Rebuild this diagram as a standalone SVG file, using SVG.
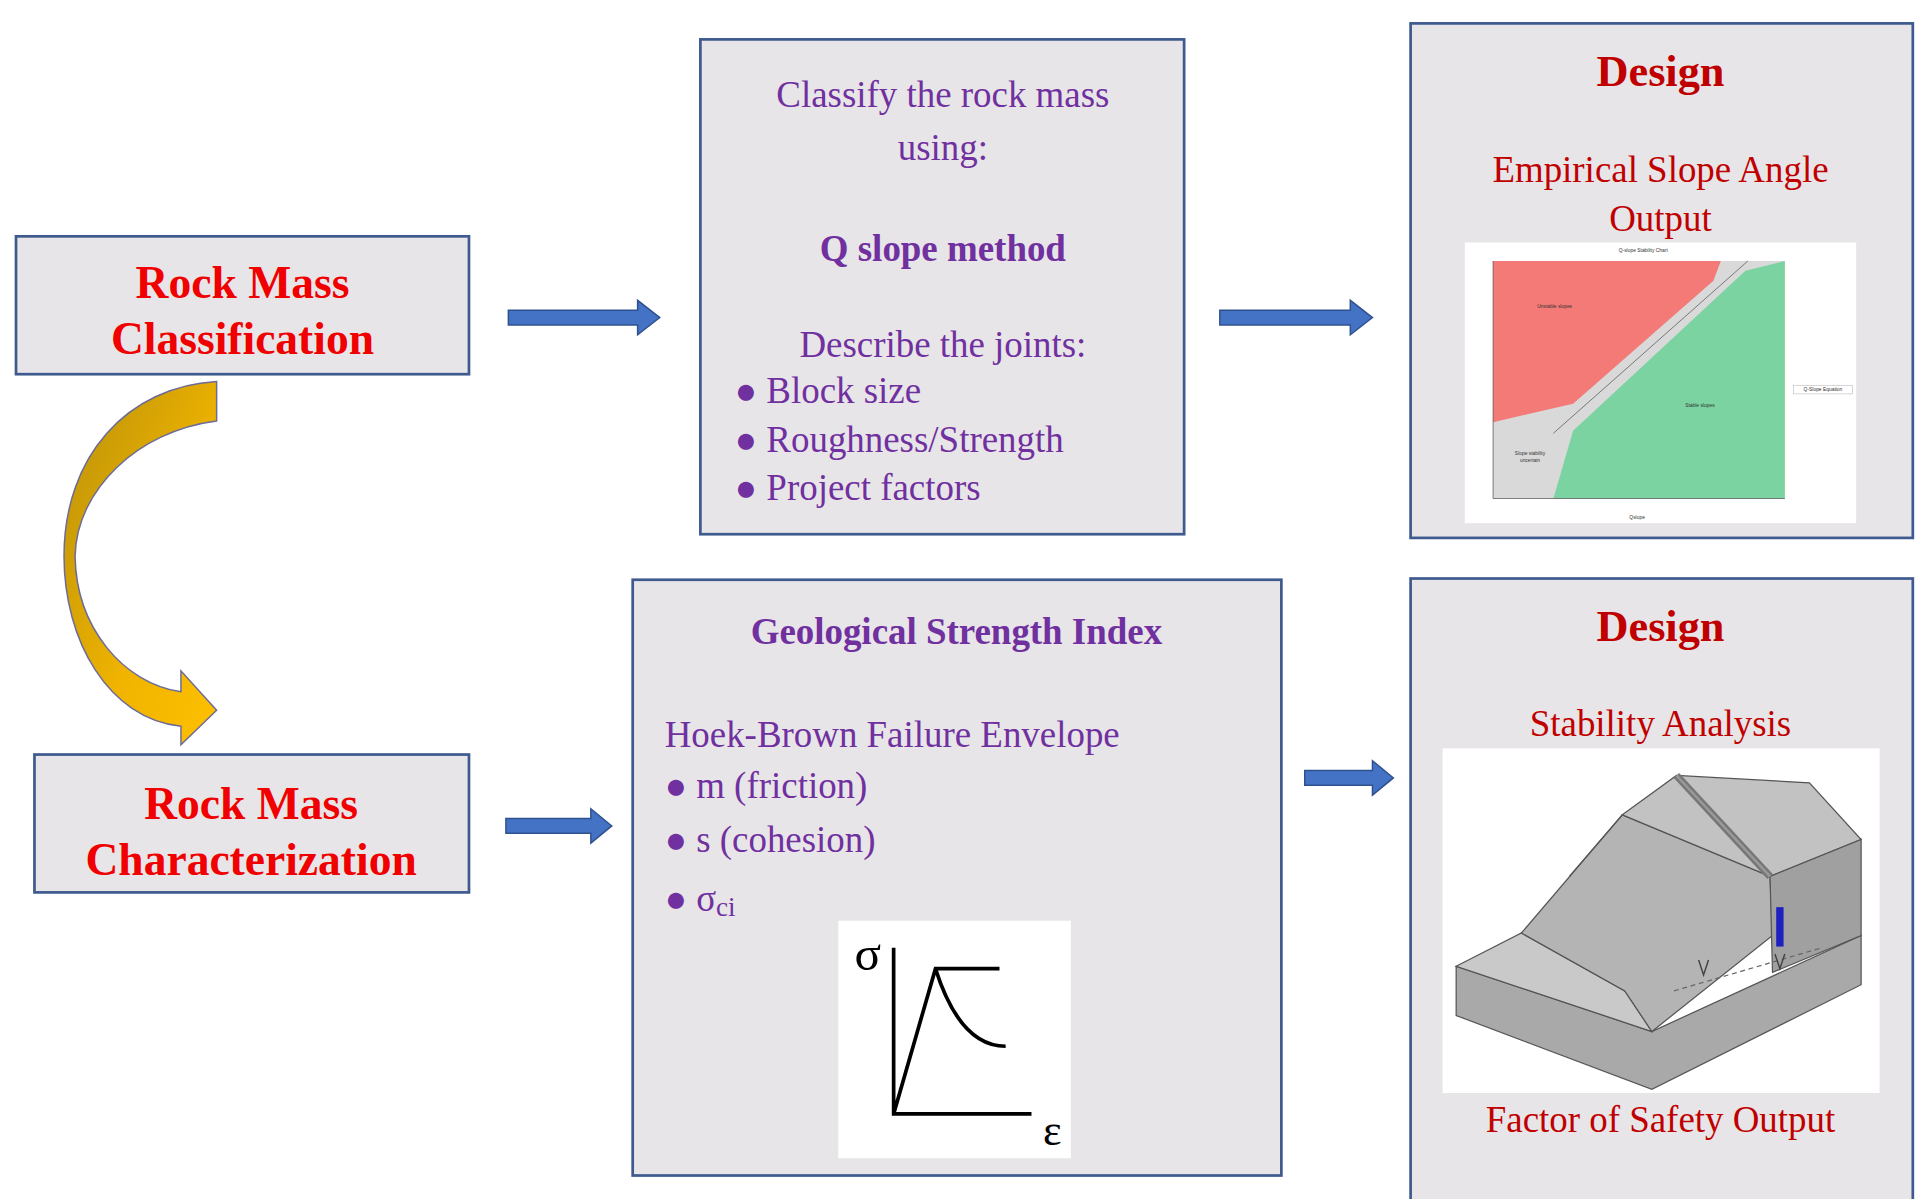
<svg xmlns="http://www.w3.org/2000/svg" width="1930" height="1199" viewBox="0 0 1930 1199">
<style>
.box{fill:#e7e5e7;stroke:#3f5a8e;stroke-width:2.2}
.arr{fill:#4472c4;stroke:#2f528f;stroke-width:1.2}
.red{font-family:"Liberation Serif",serif;font-weight:bold;fill:#f00000;font-size:37px;text-anchor:middle}
.pur{font-family:"Liberation Serif",serif;fill:#7030a0;font-size:30px}
.dr{font-family:"Liberation Serif",serif;fill:#c00000;text-anchor:middle}
.tiny{font-family:"Liberation Sans",sans-serif;font-size:4px;fill:#333}
</style>
<defs>
<linearGradient id="gold" x1="0" y1="0" x2="1" y2="1">
<stop offset="0" stop-color="#b8900a"/><stop offset="0.6" stop-color="#f0b400"/><stop offset="1" stop-color="#ffc000"/>
</linearGradient>
</defs>
<rect width="1930" height="1199" fill="#ffffff"/>
<g transform="scale(1.2309)">
<g id="n-classification">
<rect class="box" x="13" y="192" width="368" height="112"/>
<text class="red" x="197" y="242">Rock Mass</text>
<text class="red" x="197" y="288">Classification</text>
</g>
<g id="n-characterization">
<rect class="box" x="28" y="613" width="353" height="112"/>
<text class="red" x="204" y="665">Rock Mass</text>
<text class="red" x="204" y="711">Characterization</text>
</g>
<g id="n-qslope">
<rect class="box" x="569" y="32" width="393" height="402"/>
<text class="pur" x="766" y="87" text-anchor="middle">Classify the rock mass</text>
<text class="pur" x="766" y="130" text-anchor="middle">using:</text>
<text class="pur" x="766" y="212" text-anchor="middle" font-weight="bold" font-size="32">Q slope method</text>
<text class="pur" x="766" y="290" text-anchor="middle" font-size="29">Describe the joints:</text>
<text class="pur" x="597" y="327">● Block size</text>
<text class="pur" x="597" y="367">● Roughness/Strength</text>
<text class="pur" x="597" y="406">● Project factors</text>
</g>
<g id="n-design1">
<rect class="box" x="1146" y="19" width="408" height="418"/>
<text class="dr" x="1349" y="70" font-size="36" font-weight="bold">Design</text>
<text class="dr" x="1349" y="148" font-size="30">Empirical Slope Angle</text>
<text class="dr" x="1349" y="188" font-size="30">Output</text>
<rect x="1190" y="197" width="318" height="228" fill="#ffffff"/>
<rect x="1213" y="212" width="237" height="193" fill="#d9d9d9"/>
<polygon points="1213,212 1398,212 1392,228 1278,328 1213,343" fill="#f47a78"/>
<polygon points="1262,405 1278,350 1418,220 1450,212 1450,405" fill="#7ad3a0"/>
<line x1="1262" y1="352" x2="1420" y2="212" stroke="#555" stroke-width="0.6"/>
<line x1="1213" y1="212" x2="1213" y2="405" stroke="#555" stroke-width="0.6"/>
<line x1="1213" y1="405" x2="1450" y2="405" stroke="#555" stroke-width="0.6"/>
<text class="tiny" x="1335" y="205" text-anchor="middle">Q-slope Stability Chart</text>
<text class="tiny" x="1263" y="250" text-anchor="middle">Unstable slopes</text>
<text class="tiny" x="1381" y="331" text-anchor="middle">Stable slopes</text>
<text class="tiny" x="1243" y="370" text-anchor="middle">Slope stability</text>
<text class="tiny" x="1243" y="375" text-anchor="middle">uncertain</text>
<text class="tiny" x="1330" y="422" text-anchor="middle">Qslope</text>
<rect x="1457" y="313" width="48" height="7" fill="#fff" stroke="#bbb" stroke-width="0.5"/>
<text class="tiny" x="1481" y="318" text-anchor="middle">Q-Slope Equation</text>
</g>
<g id="n-gsi">
<rect class="box" x="514" y="471" width="527" height="484"/>
<text class="pur" x="777" y="523" text-anchor="middle" font-weight="bold" font-size="36">Geological Strength Index</text>
<text class="pur" x="540" y="607" font-size="32">Hoek-Brown Failure Envelope</text>
<text class="pur" x="540" y="648" font-size="32">● m (friction)</text>
<text class="pur" x="540" y="692" font-size="32">● s (cohesion)</text>
<text class="pur" x="540" y="740" font-size="32">● σ<tspan font-size="22" dy="4">ci</tspan></text>
<rect x="681" y="748" width="189" height="193" fill="#ffffff"/>
<text x="705" y="788" font-family="Liberation Serif,serif" font-size="40" text-anchor="middle" fill="#000">σ</text>
<text x="855" y="930" font-family="Liberation Serif,serif" font-size="36" text-anchor="middle" fill="#000">ε</text>
<path d="M726,770 L726,905 L838,905 M726,905 L760,787 L812,787 M760,787 Q780,850 817,850" fill="none" stroke="#000" stroke-width="3"/>
</g>
<g id="n-design2">
<rect class="box" x="1146" y="470" width="408" height="520"/>
<text class="dr" x="1349" y="521" font-size="36" font-weight="bold">Design</text>
<text class="dr" x="1349" y="598" font-size="30">Stability Analysis</text>
<text class="dr" x="1349" y="920" font-size="30">Factor of Safety Output</text>
<rect x="1172" y="608" width="355" height="280" fill="#ffffff"/>
<polygon points="1183,785 1183,825 1342,885 1512,800 1512,760 1342,838" fill="#a9a9a9" stroke="#555" stroke-width="1"/>
<polygon points="1183,785 1236,758 1320,805 1342,838" fill="#c9c9c9" stroke="#555" stroke-width="1"/>
<polygon points="1236,758 1318,662 1438,712 1440,760 1342,838 1320,805" fill="#b4b4b4" stroke="#555" stroke-width="1"/>
<polygon points="1318,662 1362,630 1470,636 1512,682 1438,712" fill="#c2c2c2" stroke="#555" stroke-width="1"/>
<polygon points="1438,712 1512,682 1512,760 1440,790" fill="#a0a0a0" stroke="#555" stroke-width="1"/>
<line x1="1362" y1="630" x2="1438" y2="712" stroke="#777" stroke-width="6"/>
<line x1="1362" y1="630" x2="1438" y2="712" stroke="#999" stroke-width="2"/>
<line x1="1275" y1="712" x2="1318" y2="662" stroke="#555" stroke-width="1"/>
<rect x="1443" y="737" width="6" height="32" fill="#2020c0"/>
<line x1="1360" y1="805" x2="1480" y2="770" stroke="#666" stroke-width="1" stroke-dasharray="4 3"/>
<path d="M1380,780 l4,12 l4,-12 M1442,775 l4,12 l4,-12" fill="none" stroke="#444" stroke-width="1.2"/>
</g>
<g id="connectors">
<polygon class="arr" points="413,252 518,252 518,244 536,258 518,272 518,264 413,264"/>
<polygon class="arr" points="991,252 1097,252 1097,244 1115,258 1097,272 1097,264 991,264"/>
<polygon class="arr" points="411,665 480,665 480,657 497,671 480,685 480,677 411,677"/>
<polygon class="arr" points="1060,626 1115,626 1115,618 1132,632 1115,646 1115,638 1060,638"/>
<path d="M176,310 L176,342 C112,350 62,398 61,452 C62,510 100,555 147,562 L147,545 L176,577 L147,605 L147,590 C88,584 52,520 52,452 C52,370 104,314 176,310 Z" fill="url(#gold)" stroke="#6b6b9a" stroke-width="1.2"/>
</g>
</g>
</svg>
